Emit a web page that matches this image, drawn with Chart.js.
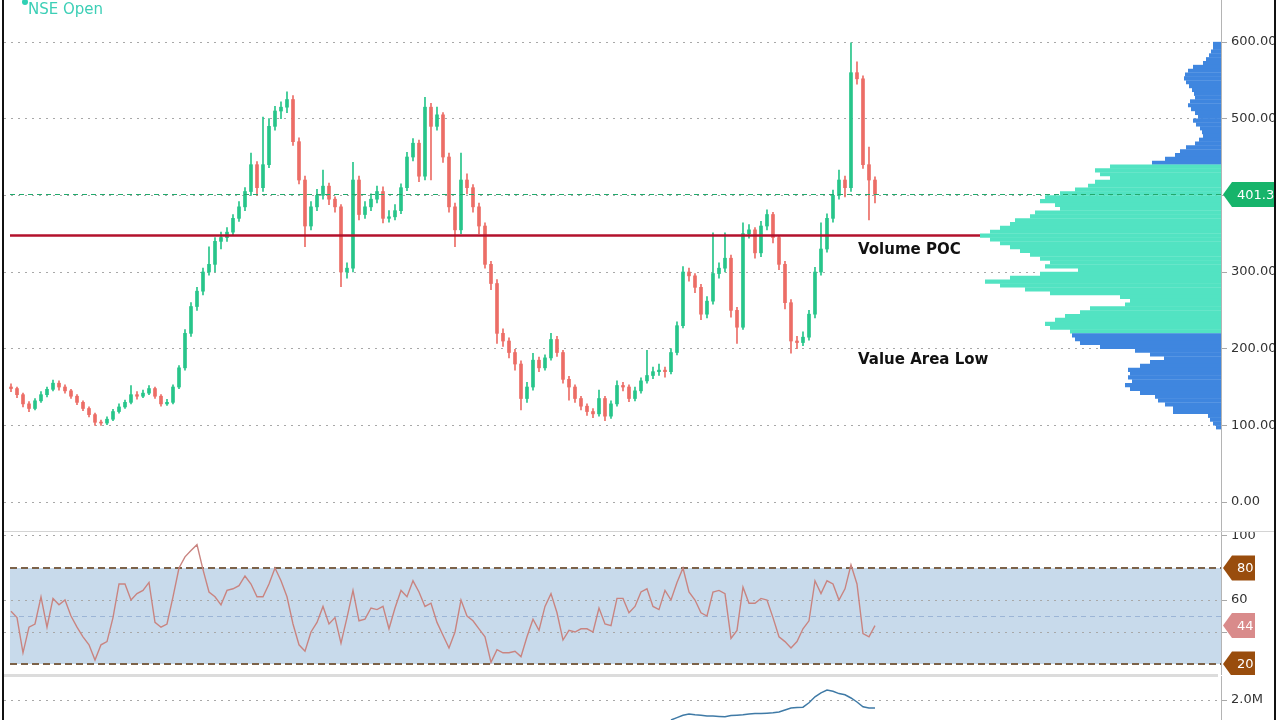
<!DOCTYPE html>
<html><head><meta charset="utf-8">
<script src="https://cdn.jsdelivr.net/npm/chart.js@4.4.1/dist/chart.umd.min.js"></script>
<style>
html,body{margin:0;padding:0;background:#fff;}
#wrap{position:relative;width:1280px;height:720px;overflow:hidden;background:#fff;}
#clip{position:absolute;left:0;top:0;width:1274px;height:720px;overflow:hidden;}
canvas{position:absolute;left:0;}
.ln{position:absolute;}
</style></head><body>
<div id="wrap">
 <div id="clip">
  <canvas id="price" width="1280" height="531" style="top:0"></canvas>
  <canvas id="profile" width="1280" height="531" style="top:0"></canvas>
  <canvas id="rsi" width="1280" height="144" style="top:531px"></canvas>
  <canvas id="vol" width="1280" height="44" style="top:676px"></canvas>
 </div>
 <div class="ln" style="left:4px;top:531px;width:1270px;height:1px;background:#d4d4d4"></div>
 <div class="ln" style="left:4px;top:674px;width:1214px;height:3px;background:#dcdcdc"></div>
 <div class="ln" style="left:2px;top:0;width:2px;height:720px;background:#111"></div>
 <div class="ln" style="left:1274px;top:0;width:2px;height:720px;background:#111"></div>
</div>
<script>
// ---------- DATA ----------
const seriesName = 'NSE Open';
const candleOpen = [150,148,140,128,122,132,140,147,155,150,
145,138,130,122,114,104,103,108,118,124,
130,140,138,142,148,138,128,130,150,175,
220,255,275,300,310,340,345,352,370,385,
405,440,410,440,490,510,515,525,470,420,
360,385,400,412,395,385,300,305,420,375,
385,395,405,370,372,380,410,450,468,425,
515,490,505,450,385,355,420,410,385,360,
310,285,220,210,195,180,135,150,185,175,
188,212,195,160,150,135,125,118,115,135,
112,128,152,150,135,145,158,165,170,172,
170,195,230,300,295,280,245,262,298,305,
318,250,228,350,355,325,360,375,345,310,
260,210,208,215,245,300,330,370,400,420,
410,560,552,440,420];
const candleHigh = [154,150,142,131,135,144,150,159,158,153,
147,140,132,124,116,107,111,121,128,133,
152,144,146,152,150,140,134,153,178,225,
260,280,305,333,345,352,358,375,392,410,
455,444,502,500,516,522,535,530,475,425,
392,408,433,416,398,388,312,443,425,392,
402,412,411,380,388,415,456,474,472,528,
520,515,508,455,390,455,428,414,390,364,
314,290,226,214,199,184,156,194,189,192,
220,216,198,164,153,138,128,122,146,138,
132,158,156,153,150,162,198,176,180,176,
200,235,307,305,298,284,268,351,312,351,
322,254,364,362,358,366,381,378,348,314,
264,216,222,250,306,364,376,407,433,425,
599,574,556,463,424];
const candleLow = [144,136,124,118,120,130,137,145,146,142,
135,127,119,111,100,100,101,106,116,122,
128,134,136,140,135,125,126,128,148,172,
216,250,270,296,300,330,340,348,366,380,
400,400,405,436,485,500,508,465,415,333,
355,380,395,388,378,281,292,300,368,370,
380,390,364,365,368,376,406,445,418,420,
420,485,443,378,333,350,402,378,350,305,
277,207,203,188,172,120,130,146,170,172,
185,190,155,133,130,120,113,110,112,106,
109,125,145,131,132,142,155,161,165,163,
167,192,227,288,273,238,240,258,292,300,
241,207,225,344,318,320,355,338,303,252,
194,200,204,211,240,296,326,365,395,398,
405,545,435,368,390];
const candleClose = [148,140,128,122,132,140,147,155,150,145,
138,130,122,114,104,103,108,118,124,130,
140,138,142,148,138,128,130,150,175,220,
255,275,300,310,340,345,352,370,385,405,
440,410,440,490,510,515,525,470,420,360,
385,400,412,395,385,300,305,420,375,385,
395,405,370,372,380,410,450,468,425,515,
490,505,450,385,355,420,410,385,360,310,
285,220,210,195,180,135,150,185,175,188,
212,195,160,150,135,125,118,115,135,112,
128,152,150,135,145,158,165,170,172,170,
195,230,300,295,280,245,262,298,305,318,
250,228,350,355,325,360,375,345,310,260,
210,208,215,245,300,330,370,400,420,410,
560,552,440,420,401.3];
const priceTicks = [0,100,200,300,400,500,600];
const rsiValues = [53,49,27,43,45,62,43,61,57,60,
50,43,37,32,22.5,32,34,49,70,70,
60,64,66,71,46,43,45,62,80,87,
91,94.6,79,65,62,57,66,67,69,75,
70,62,62,70,80,72,62,45,32,28,
40,46,56,45,49,33,49,66,47,48,
55,54,56,42,55,66,62,72,65,56,
58,46,38,30,40,60,50,47,42,37,
21,29,27,27,28,24.6,37,48,41,56,
64,52,35,41,40,42,42,40,55,45,
44,61,61,52,56,65,67,56,54,66,
60,71,80,65,60,52,50,65,66,64,
36,41,68,58,58,61,60,49,37,34,
30,34,42,47,72,64,72,70,60,67,
82,70,39,37,44];
const rsiTicks = [40,60,100];
const rsiTickLabels = ['', '60', '100'];
const rsiUpper = 80, rsiLower = 20, rsiMiddle = 50;
const lowerLineStart = 110; // first candle index of the lower-pane line
const lowerLineValues = [1.5,1.56,1.62,1.65,1.63,1.62,1.6,1.6,1.59,1.58,
1.61,1.62,1.63,1.65,1.66,1.66,1.67,1.68,1.7,1.75,
1.8,1.81,1.82,1.93,2.08,2.18,2.25,2.22,2.16,2.13,
2.05,1.95,1.83,1.8,1.8];
const lowerTicks = [2.0];
const lowerTickLabels = ['2.0M'];
const profileTop = 600, profileStep = 5;
const profileVolume = [8,8,10,12,15,18,28,33,36,37,
35,32,29,27,26,31,33,30,26,23,
28,25,21,19,18,22,26,35,41,46,
56,69,111,126,121,111,126,133,146,161,
176,181,166,161,186,191,206,211,221,231,
241,231,221,211,201,191,181,171,176,143,
181,211,236,221,196,171,101,91,96,131,
141,156,166,176,171,151,149,146,141,121,
86,71,57,71,81,93,91,93,89,96,
91,81,66,63,56,48,48,13,11,8,
5];
const valueAreaLow = 220, valueAreaHigh = 440;

// ---------- STYLE / LAYOUT ----------
const FONT = '"DejaVu Sans", Verdana, sans-serif';
Chart.defaults.font.family = FONT;
Chart.defaults.font.size = 13;
Chart.defaults.color = '#333';
const UP = '#27c58a', DOWN = '#ec6d66';
const X_MIN = -1.1667, X_MAX = 201.67;
const PRICE_MIN = -37.8, PRICE_MAX = 654.8;
const AXIS_W = 59;
const GRID = '#a8a8a8';
function fixAxis(a){ a.width = AXIS_W; a.paddingTop = 0; a.paddingBottom = 0; }
const xHidden = {type:'linear', display:false, min:X_MIN, max:X_MAX, offset:false};
const base = {responsive:false, animation:false, devicePixelRatio:1, events:[],
  layout:{padding:{left:4,right:0,top:0,bottom:0}},
  plugins:{legend:{display:false}, tooltip:{enabled:false}}};
function yAxis(min, max, tickVals, labelFn){
  return {position:'right', min:min, max:max, afterFit:fixAxis,
    afterBuildTicks: a => { a.ticks = tickVals.map(v => ({value:v})); },
    ticks:{autoSkip:false, padding:4, color:'#333', callback:(v, i) => labelFn(v, i)},
    grid:{color:GRID, tickLength:6, lineWidth:1},
    border:{display:true, color:'#b4b4b4', width:1, dash:[2,5]}};
}
function badge(ctx, y, text, color, right){
  ctx.save();
  ctx.fillStyle = color;
  ctx.beginPath();
  ctx.moveTo(1223, y); ctx.lineTo(1232, y-12.5); ctx.lineTo(right, y-12.5);
  ctx.lineTo(right, y+12.5); ctx.lineTo(1232, y+12.5); ctx.closePath(); ctx.fill();
  ctx.fillStyle = '#fff'; ctx.font = '13px ' + FONT; ctx.textBaseline = 'middle'; ctx.textAlign='left';
  ctx.fillText(text, 1237, y+1);
  ctx.restore();
}

// ---------- PRICE (candles) ----------
const idx = candleClose.map((_, i) => i);
const candleColor = idx.map(i => candleClose[i] >= candleOpen[i] ? UP : DOWN);
new Chart(document.getElementById('price'), {
  type:'bar',
  data:{datasets:[
    {data: idx.map(i => ({x:i, y:[candleLow[i], candleHigh[i]]})), backgroundColor:candleColor, barThickness:1, grouped:false, order:2},
    {data: idx.map(i => ({x:i, y:[candleOpen[i], candleClose[i]]})), backgroundColor:candleColor, barThickness:3, minBarLength:1, grouped:false, order:1}
  ]},
  options: Object.assign({}, base, {scales:{
    x: xHidden,
    y: yAxis(PRICE_MIN, PRICE_MAX, priceTicks, v => Number(v).toFixed(2))
  }})
});

// ---------- VOLUME PROFILE + annotations ----------
const profileLevels = profileVolume.map((_, k) => profileTop - profileStep*k - profileStep/2);
const pocIndex = profileVolume.indexOf(Math.max(...profileVolume));
const annot = {
  id:'annot',
  afterDraw(chart){
    const {ctx, chartArea:ca, scales:{x:xs, y:ys}} = chart;
    const yPoc = ys.getPixelForValue(profileLevels[pocIndex]);
    ctx.save();
    ctx.strokeStyle = '#b3112c'; ctx.lineWidth = 2.5;
    ctx.beginPath(); ctx.moveTo(ca.left+6, yPoc); ctx.lineTo(xs.getPixelForValue(profileVolume[pocIndex]), yPoc); ctx.stroke();
    const last = candleClose[candleClose.length-1];
    const yLast = Math.round(ys.getPixelForValue(last)) + 0.5;
    ctx.strokeStyle = '#22a96c'; ctx.lineWidth = 1; ctx.setLineDash([5,4]);
    ctx.beginPath(); ctx.moveTo(ca.left+6, yLast); ctx.lineTo(ca.right, yLast); ctx.stroke();
    ctx.setLineDash([]);
    ctx.fillStyle = '#111'; ctx.font = 'bold 15px ' + FONT; ctx.textBaseline = 'middle';
    ctx.fillText('Volume POC', 858, yPoc + 15);
    ctx.fillText('Value Area Low', 858, ys.getPixelForValue(valueAreaLow) + 27);
    ctx.fillStyle = '#2fd0b4';
    ctx.beginPath(); ctx.arc(25, 2, 3, 0, Math.PI*2); ctx.fill();
    ctx.fillStyle = '#3ccfb6'; ctx.font = '15px ' + FONT;
    ctx.fillText(seriesName, 28, 10);
    ctx.restore();
    badge(ctx, yLast, last.toFixed(2), '#17b46b', 1290);
  }
};
new Chart(document.getElementById('profile'), {
  type:'bar',
  data:{datasets:[{
    data: profileVolume.map((v, k) => ({x:v, y:profileLevels[k]})),
    backgroundColor: profileLevels.map(p => (p > valueAreaLow && p < valueAreaHigh) ? '#52e3c2' : '#3f86df'),
    barPercentage:1.1, categoryPercentage:1, borderWidth:0
  }]},
  options: Object.assign({}, base, {indexAxis:'y',
    layout:{padding:{left:4,right:AXIS_W,top:0,bottom:0}},
    scales:{
      x:{type:'linear', display:false, reverse:true, min:0, max:1217},
      y:{type:'linear', display:false, min:PRICE_MIN, max:PRICE_MAX, offset:false}
    }}),
  plugins:[annot]
});

// ---------- RSI ----------
const rsiDeco = {
  id:'rsiDeco',
  beforeDraw(chart){
    const {ctx, chartArea:ca, scales:{y}} = chart;
    const a = y.getPixelForValue(rsiUpper), b = y.getPixelForValue(rsiLower);
    ctx.save(); ctx.fillStyle = '#c8daeb';
    ctx.fillRect(ca.left+6, a, ca.right-ca.left-6, b-a); ctx.restore();
  },
  beforeDatasetsDraw(chart){
    const {ctx, chartArea:ca, scales:{y}} = chart;
    ctx.save();
    ctx.strokeStyle = '#9cb5d6'; ctx.lineWidth = 1; ctx.setLineDash([5,4]);
    let m = Math.round(y.getPixelForValue(rsiMiddle))+0.5;
    ctx.beginPath(); ctx.moveTo(ca.left+6, m); ctx.lineTo(ca.right, m); ctx.stroke();
    ctx.strokeStyle = '#7c6249'; ctx.lineWidth = 2; ctx.setLineDash([7,4]);
    [rsiUpper, rsiLower].forEach(v => {
      const yy = Math.round(y.getPixelForValue(v));
      ctx.beginPath(); ctx.moveTo(ca.left+6, yy); ctx.lineTo(ca.right, yy); ctx.stroke();
    });
    ctx.restore();
  },
  afterDraw(chart){
    const {ctx, scales:{y}} = chart;
    badge(ctx, y.getPixelForValue(rsiUpper), String(rsiUpper), '#994d0d', 1255);
    badge(ctx, y.getPixelForValue(rsiLower), String(rsiLower), '#994d0d', 1255);
    const lastR = rsiValues[rsiValues.length-1];
    badge(ctx, y.getPixelForValue(lastR), String(Math.round(lastR)), '#d98b8b', 1255);
  }
};
new Chart(document.getElementById('rsi'), {
  type:'line',
  data:{datasets:[{data: rsiValues.map((v,i)=>({x:i, y:v})), borderColor:'#c98480', borderWidth:1.4, pointRadius:0, tension:0}]},
  options: Object.assign({}, base, {scales:{
    x: xHidden,
    y: yAxis(13.125, 103.125, rsiTicks, (v, i) => rsiTickLabels[i])
  }}),
  plugins:[rsiDeco]
});

// ---------- lower pane line ----------
new Chart(document.getElementById('vol'), {
  type:'line',
  data:{datasets:[{data: lowerLineValues.map((v,k)=>({x:lowerLineStart+k, y:v})), borderColor:'#3f7aa6', borderWidth:1.5, pointRadius:0, tension:0}]},
  options: Object.assign({}, base, {scales:{
    x: xHidden,
    y: yAxis(1.5, 2.6, lowerTicks, (v, i) => lowerTickLabels[i])
  }})
});
</script>
</body></html>
